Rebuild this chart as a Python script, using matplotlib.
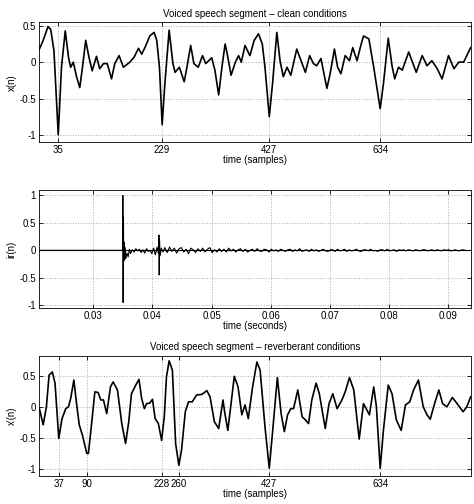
import numpy as np
import matplotlib
matplotlib.use("Agg")
import matplotlib.pyplot as plt

plt.rcParams['font.family'] = ['Liberation Sans', 'DejaVu Sans']
plt.rcParams['font.size'] = 7
plt.rcParams['axes.unicode_minus'] = False

# clean speech (sample, value)
clean_n = [1, 8, 17, 22, 28, 36, 42, 49, 55, 59, 64, 70, 76, 81, 87, 93, 99, 107, 113, 120,
           127, 135, 141, 149, 157, 169, 177, 185, 191, 197, 206, 214, 219, 224, 229, 234, 242,
           249, 253, 261, 270, 275, 282, 288, 296, 304, 310, 321, 327, 334, 340, 346, 350, 357,
           365, 371, 376, 383, 392, 400, 408, 415, 420, 428, 434, 442, 448, 454, 461, 468, 479,
           487, 495, 503, 510, 516, 524, 535, 541, 549, 555, 561, 569, 577, 583, 591, 597, 603,
           613, 622, 634, 640, 649, 656, 661, 668, 675, 687, 693, 701, 712, 721, 730, 740, 749,
           761, 771, 780, 789, 802]
clean_x = [0.18, 0.3, 0.49, 0.45, 0.16, -1.0, -0.07, 0.43, 0.07, -0.07, 0.0, -0.2, -0.35, -0.07,
           0.3, 0.07, -0.12, 0.08, -0.09, -0.02, -0.02, -0.23, -0.02, 0.09, -0.07, 0.0, 0.07, 0.19,
           0.11, 0.2, 0.36, 0.41, 0.3, -0.07, -0.86, -0.3, 0.44, -0.02, -0.14, -0.07, -0.27, -0.07,
           0.23, -0.02, -0.07, 0.09, -0.02, 0.06, -0.11, -0.45, -0.07, 0.25, 0.11, -0.18, 0.0, 0.09,
           0.0, 0.23, 0.09, 0.3, 0.39, 0.25, -0.07, -0.75, -0.3, 0.41, 0.02, -0.2, -0.07, -0.18,
           0.18, 0.02, -0.14, 0.09, -0.02, -0.05, 0.05, -0.36, -0.16, 0.18, -0.07, -0.16, 0.09, 0.02,
           0.2, 0.02, 0.2, 0.36, 0.32, -0.07, -0.64, -0.3, 0.33, -0.05, -0.23, -0.07, -0.11, 0.14,
           0.02, -0.14, 0.09, -0.05, 0.02, -0.09, -0.23, 0.09, -0.09, 0.0, 0.0, 0.2]

# reverberant speech
rev_n = [1, 8, 14, 19, 25, 30, 37, 43, 50, 55, 59, 65, 70, 75, 81, 89, 92, 97, 104, 110, 115,
         120, 126, 133, 138, 146, 154, 161, 167, 172, 180, 186, 191, 196, 200, 206, 211, 216, 222,
         228, 233, 237, 242, 248, 254, 260, 265, 272, 278, 285, 293, 303, 312, 318, 326, 334, 342,
         345, 351, 357, 363, 370, 377, 383, 389, 397, 405, 411, 420, 428, 435, 443, 450, 456, 462,
         468, 473, 481, 489, 495, 501, 507, 515, 521, 532, 539, 546, 554, 563, 569, 577, 585, 595,
         603, 608, 614, 622, 627, 634, 640, 649, 656, 664, 673, 681, 689, 696, 705, 714, 721, 727,
         735, 743, 750, 758, 768, 777, 788, 795, 802]
rev_x = [-0.03, -0.29, 0.0, 0.51, 0.56, 0.38, -0.51, -0.19, -0.03, 0.0, 0.13, 0.43, 0.05, -0.29,
         -0.46, -0.75, -0.75, -0.35, 0.24, 0.23, 0.11, 0.11, -0.11, 0.32, 0.4, 0.27, -0.27, -0.59,
         -0.24, 0.21, 0.35, 0.44, 0.13, -0.03, 0.05, 0.06, 0.12, -0.19, -0.27, -0.54, -0.16, 0.48,
         0.74, 0.59, -0.59, -0.94, -0.7, -0.08, 0.08, 0.08, 0.19, 0.2, 0.26, 0.16, -0.24, -0.35,
         0.11, -0.08, -0.38, 0.05, 0.49, 0.32, -0.13, 0.03, -0.19, 0.32, 0.72, 0.59, -0.32, -0.99,
         -0.32, 0.47, -0.11, -0.4, -0.13, -0.03, -0.03, 0.27, -0.16, -0.21, -0.27, 0.11, 0.38, 0.21,
         -0.35, 0.05, 0.21, -0.03, 0.11, 0.24, 0.47, 0.27, -0.52, 0.05, -0.03, -0.13, 0.32, 0.0,
         -0.99, -0.38, 0.35, 0.21, -0.21, -0.38, 0.03, 0.08, 0.27, 0.43, 0.0, -0.13, -0.2, 0.05,
         0.27, 0.05, 0.0, 0.15, 0.05, -0.08, 0.0, 0.16]

# room impulse response: onset part
ir_t_head = [0.0208, 0.03495, 0.0350, 0.03505, 0.0351, 0.03515, 0.0352, 0.0353, 0.0354, 0.0355,
             0.0357, 0.0359, 0.0361, 0.0363, 0.0366, 0.0369, 0.0372, 0.0375, 0.0378, 0.0381,
             0.0384, 0.0387, 0.0390, 0.0393, 0.0396, 0.0399, 0.0402, 0.0405, 0.0408, 0.0410,
             0.0411, 0.04115, 0.0412, 0.0413, 0.0415, 0.0418]
ir_head = [0.0, 0.0, 1.0, -0.95, 0.62, -0.2, 0.15, -0.17, 0.05, -0.15, -0.05, -0.12, 0.02, -0.06,
           0.01, -0.03, 0.03, -0.01, 0.02, -0.04, 0.01, -0.05, 0.03, -0.02, 0.0, -0.06, 0.04,
           -0.08, 0.06, -0.05, 0.28, -0.45, 0.2, -0.1, 0.04, -0.03]
# tail, sampled every 0.4 ms from 0.0421 s
ir_tail = [0.05, -0.04, 0.06, -0.02, 0.04, -0.05, 0.03, 0.05, -0.03, 0.02, -0.06, 0.04, 0.01,
           -0.04, 0.03, -0.02, 0.04, -0.03, 0.02, 0.05, -0.04, 0.01, -0.03, 0.03, -0.02, 0.02,
           -0.03, 0.04, -0.01, 0.02, -0.03, 0.01, 0.03, -0.02, 0.02, -0.03, 0.0, 0.02, -0.02,
           0.03, -0.01, -0.02, 0.02, 0.01, -0.03, 0.02, -0.01, 0.01, -0.02, 0.02, 0.0, -0.02,
           0.01, 0.02, -0.02, 0.01, -0.01, 0.03, -0.02, 0.0, 0.01, -0.02, 0.02, -0.01, 0.01,
           -0.02, 0.0, 0.02, -0.01, -0.02, 0.01, 0.01, -0.02, 0.02, -0.01, 0.0, 0.02, -0.02,
           0.01, -0.01, 0.0, 0.02, -0.01, -0.02, 0.01, 0.01, -0.01, 0.02, -0.01, 0.0, -0.02,
           0.01, 0.01, -0.01, 0.02, -0.01, 0.0, 0.01, -0.02, 0.01, 0.0, 0.01, -0.01, 0.01, 0.0,
           -0.01, 0.01, 0.0, -0.01, 0.01, 0.01, -0.01, 0.0, 0.01, -0.01, 0.01, 0.0, -0.01, 0.01,
           0.0, 0.01, -0.01, 0.0, 0.01, -0.01, 0.0, 0.01, 0.0]
ir_t_tail = 0.0421 + 0.0004 * np.arange(len(ir_tail))

clean_ticks = [35, 229, 427, 634]
rev_ticks = [37, 90, 228, 260, 427, 634]
ir_ticks = [0.03, 0.04, 0.05, 0.06, 0.07, 0.08, 0.09]

fig = plt.figure(figsize=(4.74, 5.04), dpi=100)
ax1 = fig.add_axes([0.082, 0.718, 0.912, 0.238])
ax2 = fig.add_axes([0.082, 0.389, 0.912, 0.234])
ax3 = fig.add_axes([0.082, 0.056, 0.912, 0.238])

def style(ax):
    ax.grid(True, linestyle=':', color='#aaaaaa', linewidth=0.7)
    ax.tick_params(direction='in', length=3, width=0.6, pad=2, top=True, right=True)
    for s in ax.spines.values():
        s.set_linewidth(0.6)

ax1.plot(clean_n, clean_x, color='k', lw=1.2, solid_joinstyle='round')
ax1.set_xlim(0, 803)
ax1.set_ylim(-1.1, 0.55)
ax1.set_xticks(clean_ticks)
ax1.set_yticks([-1, -0.5, 0, 0.5])
ax1.set_yticklabels(['-1', '-0.5', '0', '0.5'])
ax1.set_title('Voiced speech segment \u2013 clean conditions', fontsize=7, pad=4)
ax1.set_xlabel('time (samples)', labelpad=0)
ax1.set_ylabel('x(n)', labelpad=2)
style(ax1)

ax2.axhline(0, color='k', lw=0.8)
ax2.plot(list(ir_t_head) + list(ir_t_tail), ir_head + ir_tail, color='k', lw=0.8)
ax2.set_xlim(0.0208, 0.0939)
ax2.set_ylim(-1.05, 1.1)
ax2.set_xticks(ir_ticks)
ax2.set_xticklabels(['%.2f' % t for t in ir_ticks])
ax2.set_yticks([-1, -0.5, 0, 0.5, 1])
ax2.set_yticklabels(['-1', '-0.5', '0', '0.5', '1'])
ax2.set_xlabel('time (seconds)', labelpad=0)
ax2.set_ylabel('ir(n)', labelpad=2)
style(ax2)

ax3.plot(rev_n, rev_x, color='k', lw=1.2, solid_joinstyle='round')
ax3.set_xlim(0, 803)
ax3.set_ylim(-1.11, 0.82)
ax3.set_xticks(rev_ticks)
ax3.set_yticks([-1, -0.5, 0, 0.5])
ax3.set_yticklabels(['-1', '-0.5', '0', '0.5'])
ax3.set_title('Voiced speech segment \u2013 reverberant conditions', fontsize=7, pad=4)
ax3.set_xlabel('time (samples)', labelpad=0)
ax3.set_ylabel("x'(n)", labelpad=2)
style(ax3)

fig.savefig('out.png', dpi=100)
